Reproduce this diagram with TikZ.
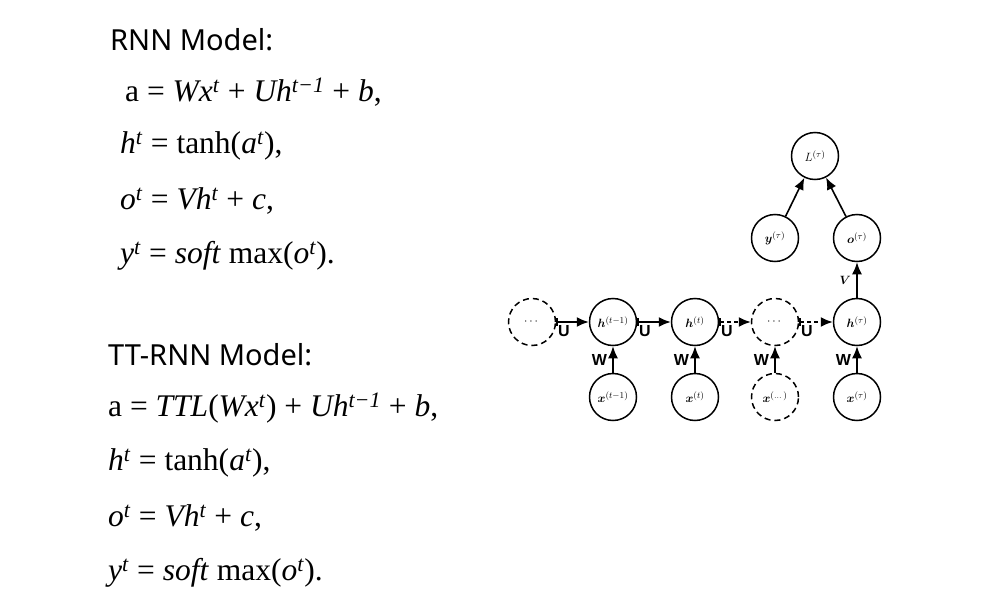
\documentclass[tikz,border=0pt]{standalone}
\usepackage{amsmath,bm}
\usepackage{fontspec}
\setmainfont{Liberation Serif}
\newfontfamily\titlefont{Noto Sans}
\newfontfamily\lblfont{Liberation Sans}
\usetikzlibrary{arrows.meta}
\newcommand{\spr}[1]{\textsuperscript{\textit{#1}}}
\begin{document}
\begin{tikzpicture}[x=1pt,y=-1pt,
  nd/.style={circle,draw,line width=1.5pt,minimum size=47pt,inner sep=0pt,font=\fontsize{13}{13}\selectfont},
  dnd/.style={nd,dash pattern=on 6pt off 4pt},
  ar/.style={line width=1.6pt,-{Latex[length=12pt,width=10pt]}},
  bar/.style={line width=1.6pt,{Bar[width=8pt]}-{Latex[length=12pt,width=10pt]}},
  lb/.style={font=\lblfont\bfseries\fontsize{16}{16}\selectfont},
  ul/.style={lb,pos=0,anchor=north west,inner sep=1pt,yshift=-2pt},
  tt/.style={anchor=west,font=\titlefont\fontsize{29}{31}\selectfont,inner sep=0pt},
  eq/.style={anchor=west,font=\fontsize{31.5}{34}\selectfont,inner sep=0pt}]
\useasboundingbox (0,0) rectangle (986,613);
\node[tt] (t1) at (110,40) {RNN Model:};
\node[eq] (e1) at (125,92) {a = \textit{Wx}\spr{t} + \textit{Uh}\spr{t−1} + \textit{b},};
\node[eq] (e2) at (120,146) {\textit{h}\spr{t} = tanh(\textit{a}\spr{t}),};
\node[eq] (e3) at (120,201) {\textit{o}\spr{t} = \textit{Vh}\spr{t} + \textit{c},};
\node[eq] (e4) at (120,256) {\textit{y}\spr{t} = \textit{soft} max(\textit{o}\spr{t}).};
\node[tt] (t2) at (108,355) {TT-RNN Model:};
\node[eq] (f1) at (108,408) {a = \textit{TTL}(\textit{Wx}\spr{t}) + \textit{Uh}\spr{t−1} + \textit{b},};
\node[eq] (f2) at (108,463) {\textit{h}\spr{t} = tanh(\textit{a}\spr{t}),};
\node[eq] (f3) at (108,518) {\textit{o}\spr{t} = \textit{Vh}\spr{t} + \textit{c},};
\node[eq] (f4) at (108,573) {\textit{y}\spr{t} = \textit{soft} max(\textit{o}\spr{t}).};

\node[dnd] (d0) at (532,322) {$\cdots$};
\node[nd] (h1) at (613,322) {$\bm{h}^{(t-1)}$};
\node[nd] (h2) at (695,322) {$\bm{h}^{(t)}$};
\node[dnd] (d1) at (775,322) {$\cdots$};
\node[nd] (h3) at (857,322) {$\bm{h}^{(\tau)}$};
\node[nd] (x1) at (613,397) {$\bm{x}^{(t-1)}$};
\node[nd] (x2) at (695,397) {$\bm{x}^{(t)}$};
\node[dnd] (x3) at (775,397) {$\bm{x}^{(\dots)}$};
\node[nd] (x4) at (857,397) {$\bm{x}^{(\tau)}$};
\node[nd] (y) at (775,238) {$\bm{y}^{(\tau)}$};
\node[nd] (o) at (857,238) {$\bm{o}^{(\tau)}$};
\node[nd] (L) at (815,156) {$L^{(\tau)}$};

\draw[bar] (d0) -- (h1) node[ul] {U};
\draw[bar] (h1) -- (h2) node[ul] {U};
\draw[bar,dash pattern=on 4pt off 3pt] (h2) -- (d1) node[ul] {U};
\draw[bar,dash pattern=on 4pt off 3pt] (d1) -- (h3) node[ul] {U};
\foreach \a/\b in {x1/h1,x2/h2,x3/d1,x4/h3}
  \draw[ar] (\a) -- (\b) node[lb,midway,left=2pt] {W};
\draw[ar] (h3) -- (o) node[midway,left=2pt,font=\fontsize{13}{13}\selectfont] {$\bm{V}$};
\draw[ar] (y) -- (L);
\draw[ar] (o) -- (L);
\end{tikzpicture}
\end{document}
